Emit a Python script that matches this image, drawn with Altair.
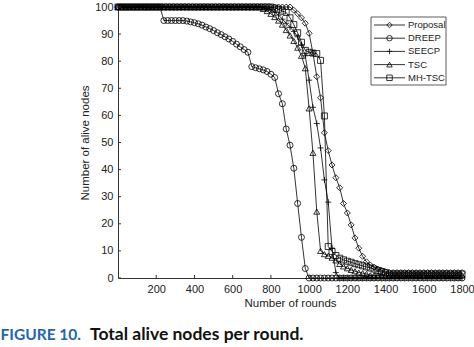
import altair as alt
import pandas as pd

# ---------------- data ----------------
rounds = list(range(0, 1801, 20))
series_names = ["Proposal", "DREEP", "SEECP", "TSC", "MH-TSC"]

proposal = [
    100, 100, 100, 100, 100, 100, 100, 100, 100, 100,
    100, 100, 100, 100, 100, 100, 100, 100, 100, 100,
    100, 100, 100, 100, 100, 100, 100, 100, 100, 100,
    100, 100, 100, 100, 100, 100, 100, 100, 100, 100,
    100, 100, 100, 100, 100, 100,
    98.8, 97.5, 96, 94, 90.3, 83, 74.3, 66.5, 53.6, 47, 41.7, 37, 33.3,
    27.5, 24, 19.6, 14.8, 11, 8, 6, 4.8, 4, 3.3, 2.8, 2.3,
    2, 2, 2, 2, 2, 2, 2, 2, 2, 2, 2, 2, 2, 2, 2, 2, 2, 2, 2, 2,
]
dreep = [
    100, 100, 100, 100, 100, 100, 100, 100, 100, 100, 100, 100,
    95, 95, 95, 95, 95, 95,
    94.8, 94.5, 94.2, 93.8, 93.3, 92.6, 92, 91.3, 90.5, 89.8, 89, 88.2,
    87.3, 86.3, 85.3, 84.3, 83.3, 78, 77.6, 77.2, 76.8, 76.2, 75.2, 74,
    68, 64.3, 55, 49, 40.5, 27.5, 15, 3.5,
    0, 0, 0, 0, 0, 0, 0, 0, 0, 0, 0, 0, 0, 0, 0, 0, 0, 0, 0, 0,
    0, 0, 0, 0, 0, 0, 0, 0, 0, 0, 0, 0, 0, 0, 0, 0, 0, 0, 0, 0, 0,
]
seecp = [
    100, 100, 100, 100, 100, 100, 100, 100, 100, 100,
    100, 100, 100, 100, 100, 100, 100, 100, 100, 100,
    100, 100, 100, 100, 100, 100, 100, 100, 100, 100,
    100, 100, 100, 100, 100, 100, 100, 100, 100,
    99.5, 99, 98, 97, 95.5, 94, 92.5, 91, 89, 86, 82, 73, 63, 57, 48,
    36.2, 28, 11, 2,
    0, 0, 0, 0, 0, 0, 0, 0, 0, 0, 0, 0, 0, 0, 0, 0, 0, 0, 0, 0,
    0, 0, 0, 0, 0, 0, 0, 0, 0, 0, 0, 0, 0,
]
tsc = [
    100, 100, 100, 100, 100, 100, 100, 100, 100, 100,
    100, 100, 100, 100, 100, 100, 100, 100, 100, 100,
    100, 100, 100, 100, 100, 100, 100, 100, 100, 100,
    100, 100, 100, 100, 100, 100, 100, 100,
    99.3, 98.5, 97.5, 96.3, 95, 93.5, 91.5, 89.5, 87.5, 85, 82, 77.4,
    62.6, 46.2, 24.5, 10, 8.8, 8.2, 7.5, 6.5, 5.2, 4.3, 3.6, 3, 2.5, 2,
    1.8, 1.5,
    1, 1, 1, 1, 1, 1, 1, 1, 1, 1, 1, 1, 1, 1, 1, 1, 1, 1, 1, 1, 1, 1, 1, 1, 1,
]
mhtsc = [
    100, 100, 100, 100, 100, 100, 100, 100, 100, 100,
    100, 100, 100, 100, 100, 100, 100, 100, 100, 100,
    100, 100, 100, 100, 100, 100, 100, 100, 100, 100,
    100, 100, 100, 100, 100, 100, 100, 100, 100, 100, 100,
    99.6, 99.2, 98.5, 98, 96, 93.5, 90.5, 87, 84, 83.3, 83, 82.8, 80.3,
    59.8, 11.6, 9.8, 8.3, 7.3, 6.7, 6.2, 5.8, 5.3, 4.9, 4.5, 4.1, 3.7,
    3.3, 2.8, 2.4, 2,
    1.5, 1.5, 1.5, 1.5, 1.5, 1.5, 1.5, 1.5, 1.5, 1.5,
    1.5, 1.5, 1.5, 1.5, 1.5, 1.5, 1.5, 1.5, 1.5, 1.5,
]

x_ticks = [200, 400, 600, 800, 1000, 1200, 1400, 1600, 1800]
y_ticks = [0, 10, 20, 30, 40, 50, 60, 70, 80, 90, 100]

all_series = [proposal, dreep, seecp, tsc, mhtsc]
for s in all_series:
    assert len(s) == len(rounds), len(s)

rows = []
for name, vals in zip(series_names, all_series):
    for r, v in zip(rounds, vals):
        rows.append({"series": name, "round": r, "value": v})
df = pd.DataFrame(rows)

# ---------------- styling ----------------
W, H = 344, 271
FONT = "Liberation Sans"
TXT = "#222222"
AX = "#333333"

shape_scale = alt.Scale(
    domain=series_names,
    range=["diamond", "circle", "M-1,0L1,0M0,-1L0,1", "triangle-up", "square"],
)
x_scale = alt.Scale(domain=[0, 1800], nice=False, zero=False)
y_scale = alt.Scale(domain=[0, 100], nice=False)

x_axis = alt.Axis(
    values=x_ticks, format="d", labelOverlap=False, labelFlush=False,
    title="Number of rounds", ticks=False, grid=False,
    domainColor=AX, domainWidth=1, labelFont=FONT, labelFontSize=11,
    labelColor=TXT, labelPadding=5, titleFont=FONT, titleFontSize=11.5,
    titleFontWeight="normal", titleColor=TXT, titlePadding=3,
)
y_axis = alt.Axis(
    values=y_ticks, format="d", labelOverlap=False, labelFlush=False,
    title="Number of alive nodes", ticks=False, grid=False,
    domainColor=AX, domainWidth=1, labelFont=FONT, labelFontSize=11,
    labelColor=TXT, labelPadding=5, titleFont=FONT, titleFontSize=11.5,
    titleFontWeight="normal", titleColor=TXT, titlePadding=4,
)

base = alt.Chart(df)
lines = base.mark_line(color="black", strokeWidth=0.8).encode(
    x=alt.X("round:Q", scale=x_scale, axis=x_axis),
    y=alt.Y("value:Q", scale=y_scale, axis=y_axis),
    detail="series:N",
)
points = base.mark_point(
    filled=False, color="black", strokeWidth=0.8, size=36, opacity=1
).encode(
    x=alt.X("round:Q", scale=x_scale, axis=x_axis),
    y=alt.Y("value:Q", scale=y_scale, axis=y_axis),
    shape=alt.Shape("series:N", scale=shape_scale, legend=None),
)

# inward ticks
yt = alt.Chart(pd.DataFrame({"t": y_ticks})).mark_rule(color=AX, strokeWidth=1).encode(
    y=alt.Y("t:Q", scale=y_scale, axis=y_axis), x=alt.value(0), x2=alt.value(3)
)
xt = alt.Chart(pd.DataFrame({"t": x_ticks})).mark_rule(color=AX, strokeWidth=1).encode(
    x=alt.X("t:Q", scale=x_scale, axis=x_axis), y=alt.value(H), y2=alt.value(H - 3)
)

# legend (manual)
leg_df = pd.DataFrame({"series": series_names, "i": list(range(len(series_names)))})
leg_base = alt.Chart(leg_df).transform_calculate(py="18 + 13.2 * datum.i")
box = alt.Chart(alt.Data(values=[{}])).mark_rect(
    fill="white", stroke=AX, strokeWidth=0.8
).encode(x=alt.value(253), x2=alt.value(328), y=alt.value(10), y2=alt.value(78))
leg_line = leg_base.mark_rule(color="black", strokeWidth=0.8).encode(
    x=alt.value(256), x2=alt.value(287), y=alt.Y("py:Q", scale=None)
)
leg_pt = leg_base.mark_point(
    filled=False, color="black", strokeWidth=0.8, size=30, opacity=1
).encode(
    x=alt.value(271.5),
    y=alt.Y("py:Q", scale=None),
    shape=alt.Shape("series:N", scale=shape_scale, legend=None),
)
leg_txt = leg_base.mark_text(
    align="left", baseline="middle", font=FONT, fontSize=9.5, color=TXT
).encode(x=alt.value(290), y=alt.Y("py:Q", scale=None), text="series:N")

# caption
cap1 = alt.Chart(alt.Data(values=[{}])).mark_text(
    align="right", baseline="middle", font="Lato", fontSize=15.5,
    fontWeight="bold", color="#2165b0", text="FIGURE 10."
).encode(x=alt.value(-37), y=alt.value(328))
cap2 = alt.Chart(alt.Data(values=[{}])).mark_text(
    align="left", baseline="middle", font="Lato", fontSize=17.5,
    fontWeight="bold", color="#111111", text="Total alive nodes per round."
).encode(x=alt.value(-28), y=alt.value(328))

chart = alt.layer(
    lines, points, yt, xt, box, leg_line, leg_pt, leg_txt, cap1, cap2
).properties(
    width=W, height=H,
    padding={"left": 118, "top": 7, "right": 12, "bottom": 69},
    autosize=alt.AutoSizeParams(type="none"),
).configure_view(stroke=None)

chart.save("out.html", embed_options={"renderer": "svg", "actions": False})
